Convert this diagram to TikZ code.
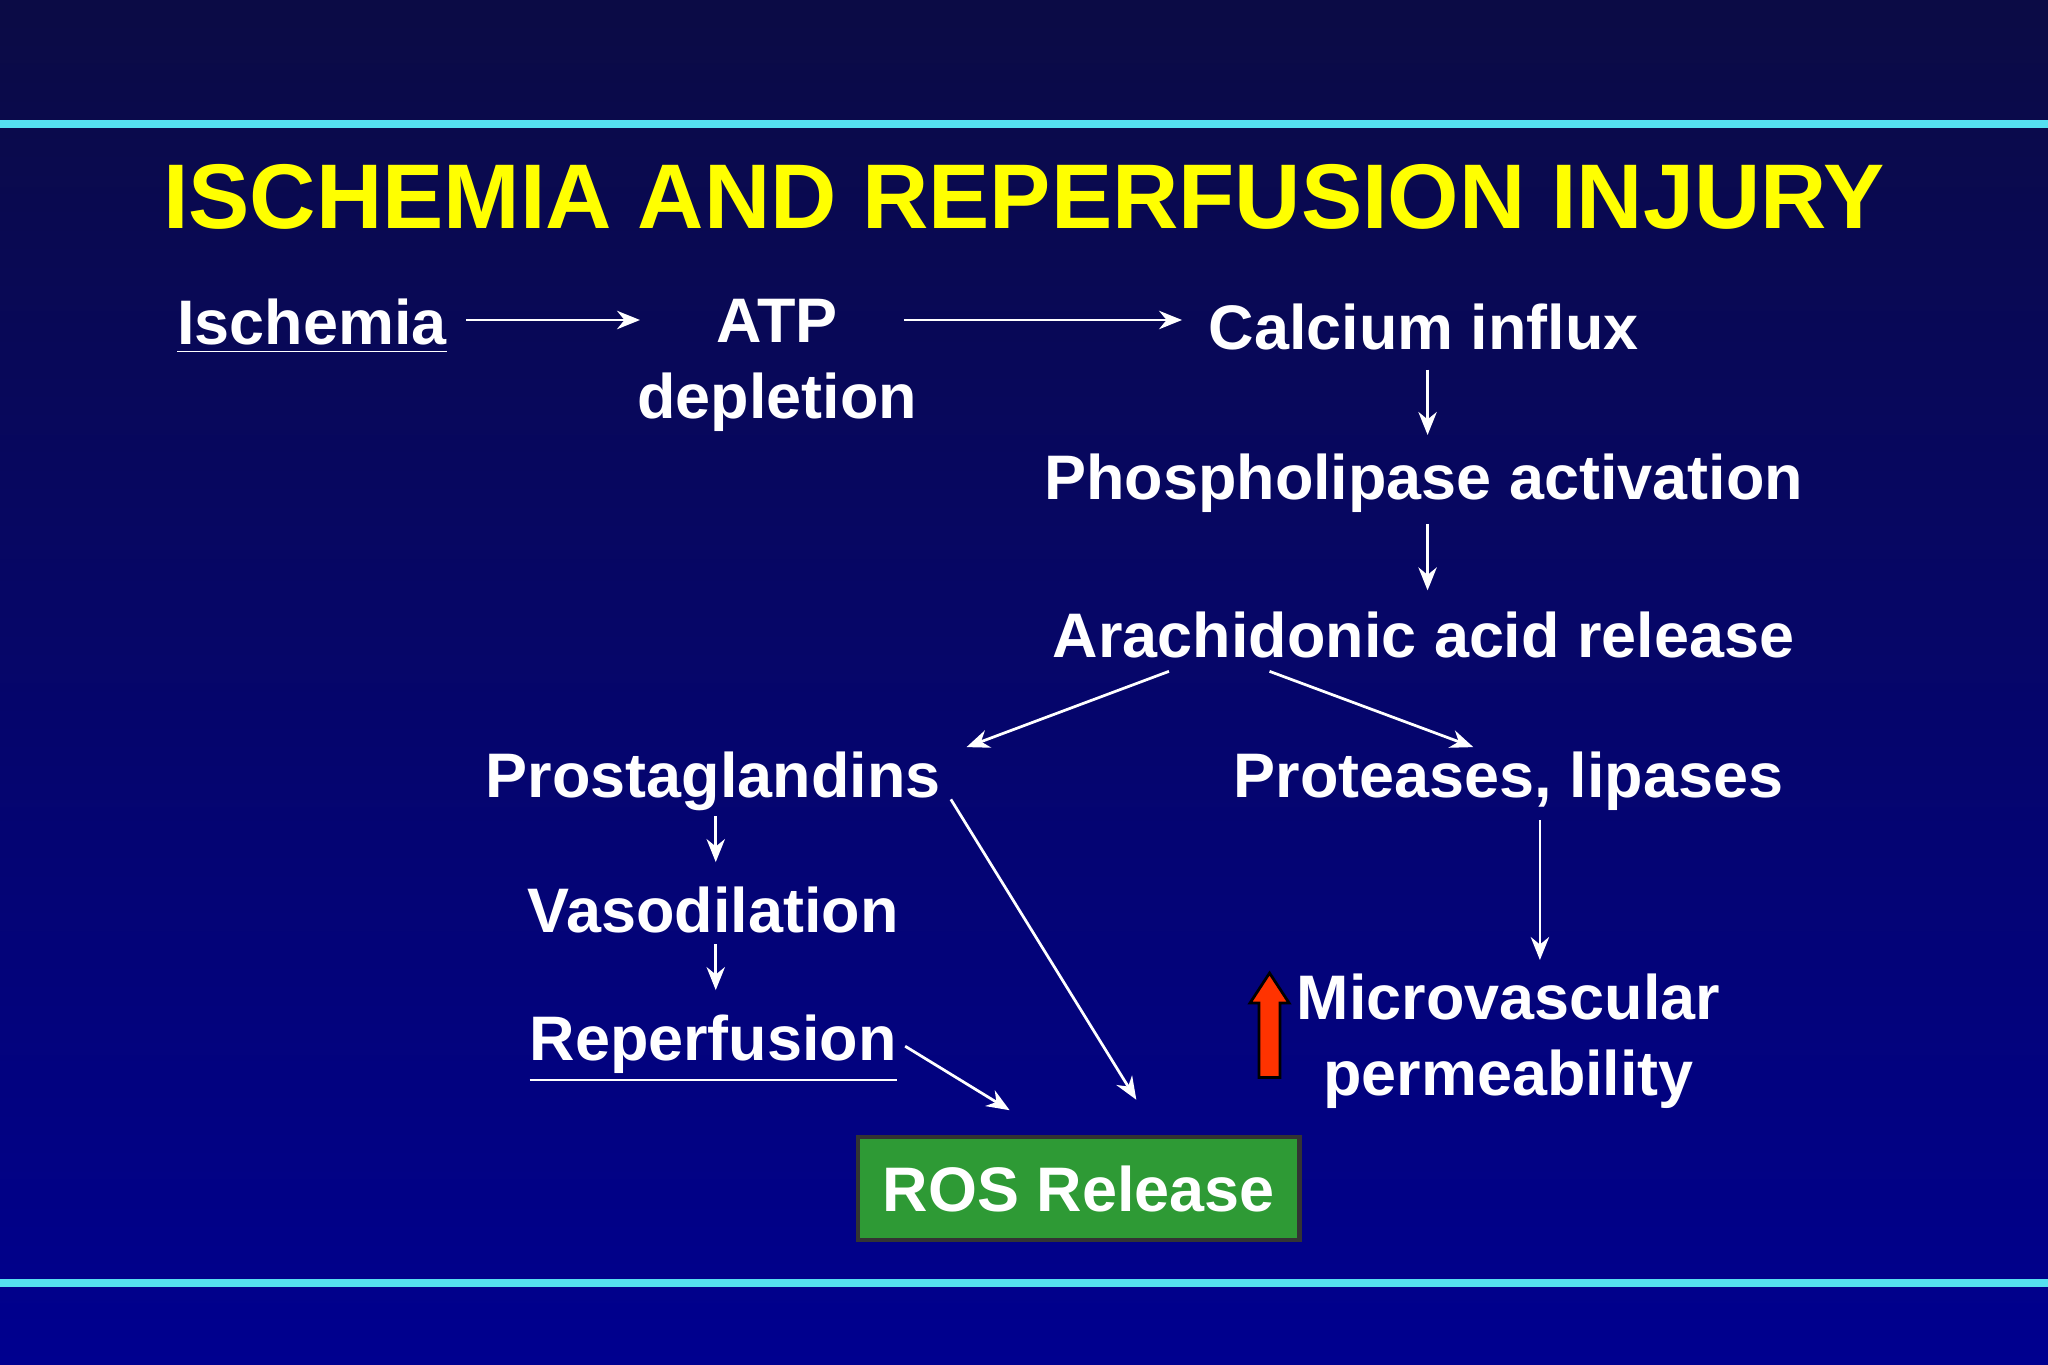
\documentclass[tikz,border=0pt]{standalone}
\usepackage{fontspec}
\setmainfont{Liberation Sans}
\usetikzlibrary{arrows.meta}
\definecolor{bgtop}{HTML}{0B0B45}
\definecolor{bgbot}{HTML}{00008F}
\definecolor{cyanline}{HTML}{55E0F0}
\definecolor{titley}{HTML}{FFFF00}
\definecolor{rosgreen}{HTML}{2E9A35}
\definecolor{redarr}{HTML}{FF3300}
\newcommand{\ul}[1]{\underline{#1}}
\tikzset{
  txt/.style={text=white,font=\fontsize{13.7}{16.5}\selectfont\bfseries,align=center,inner sep=0pt},
  arr/.style={draw=white,line width=0.6pt,-{Stealth[length=5pt,width=4pt]}}
}
\begin{document}
\begin{tikzpicture}[x=0.01cm,y=-0.01cm]
\useasboundingbox (0,0) rectangle (1568,1045);
\shade[top color=bgtop,bottom color=bgbot] (0,0) rectangle (1568,1045);
\fill[cyanline] (0,92) rectangle (1568,98);
\fill[cyanline] (0,979) rectangle (1568,985);
\node[text=titley,font=\fontsize{20}{24}\selectfont\bfseries,inner sep=0pt] (title) at (784,151) {ISCHEMIA AND REPERFUSION INJURY};
\node[txt] (isch) at (239,250) {\ul{Ischemia}};
\node[txt] (atp) at (595,280) {ATP\\depletion};
\node[txt] (ca) at (1090,250) {Calcium influx};
\node[txt] (pl) at (1090,370) {Phospholipase activation};
\node[txt] (aa) at (1090,486) {Arachidonic acid release};
\node[txt] (pg) at (546,598) {Prostaglandins};
\node[txt] (pr) at (1155,598) {Proteases, lipases};
\node[txt] (vd) at (546,697) {Vasodilation};
\node[txt] (rp) at (546,803) {\ul{Reperfusion}};
\node[txt] (mv) at (1155,797) {Microvascular\\permeability};
\node[draw=black!80,line width=1pt,fill=rosgreen,txt,minimum width=3.38cm,minimum height=0.79cm] (ros) at (826,910) {ROS Release};
\coordinate (a1) at (357,245); \coordinate (a2) at (490,245);
\coordinate (b1) at (692,245); \coordinate (b2) at (905,245);
\coordinate (c1) at (1093,283); \coordinate (c2) at (1093,333);
\coordinate (d1) at (1093,401); \coordinate (d2) at (1093,452);
\coordinate (e1) at (895,514); \coordinate (e2) at (740,572);
\coordinate (f1) at (972,514); \coordinate (f2) at (1128,572);
\coordinate (g1) at (548,625); \coordinate (g2) at (548,660);
\coordinate (h1) at (548,723); \coordinate (h2) at (548,758);
\coordinate (i1) at (1179,628); \coordinate (i2) at (1179,735);
\coordinate (j1) at (728,612); \coordinate (j2) at (870,842);
\coordinate (k1) at (693,801); \coordinate (k2) at (773,850);
\draw[arr] (a1) -- (a2);
\draw[arr] (b1) -- (b2);
\draw[arr] (c1) -- (c2);
\draw[arr] (d1) -- (d2);
\draw[arr] (e1) -- (e2);
\draw[arr] (f1) -- (f2);
\draw[arr] (g1) -- (g2);
\draw[arr] (h1) -- (h2);
\draw[arr] (i1) -- (i2);
\draw[arr] (j1) -- (j2);
\draw[arr] (k1) -- (k2);
\draw[fill=redarr,draw=black,line width=0.6pt] (964,825) -- (964,768) -- (957,768) -- (972,745) -- (987,768) -- (980,768) -- (980,825) -- cycle;
\end{tikzpicture}
\end{document}
